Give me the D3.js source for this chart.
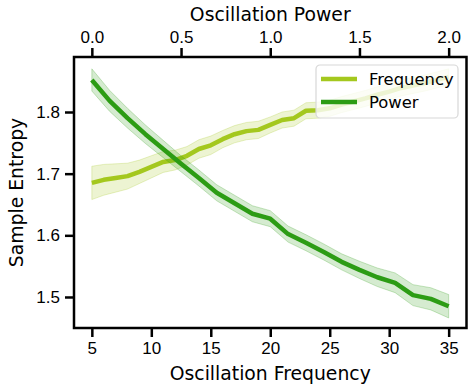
<!DOCTYPE html>
<html>
<head>
<meta charset="utf-8">
<script src="https://cdn.jsdelivr.net/npm/d3@7"></script>
<style>
  body { margin: 0; background: #fff; }
  svg { font-family: "DejaVu Sans", sans-serif; }
</style>
</head>
<body>
<script>
const width = 474
const height = 390

// frequency sweep (bottom axis)
const frequencies = d3.range(5, 36)
const freqEntropy = [1.685, 1.690, 1.693, 1.696, 1.703, 1.711, 1.719, 1.722, 1.729, 1.740,
  1.746, 1.756, 1.764, 1.769, 1.771, 1.779, 1.787, 1.790, 1.802, 1.803,
  1.806, 1.812, 1.817, 1.822, 1.828, 1.833, 1.839, 1.843, 1.847, 1.852, 1.857]
const freqErr = [0.027, 0.025, 0.023, 0.021, 0.019, 0.018, 0.017, 0.016, 0.015, 0.015,
  0.015, 0.014, 0.014, 0.014, 0.014, 0.013, 0.013, 0.013, 0.013, 0.013,
  0.013, 0.013, 0.013, 0.013, 0.013, 0.013, 0.013, 0.013, 0.013, 0.013, 0.013]

// power sweep (top axis)
const powers = d3.range(0, 21).map(i => i / 10)
const powerEntropy = [1.852, 1.818, 1.790, 1.764, 1.740, 1.716, 1.693, 1.669, 1.652, 1.635,
  1.627, 1.602, 1.588, 1.573, 1.557, 1.544, 1.532, 1.523, 1.503, 1.497, 1.485]
const powerErr = [0.018, 0.017, 0.016, 0.015, 0.014, 0.013, 0.013, 0.013, 0.013, 0.013,
  0.013, 0.013, 0.013, 0.013, 0.013, 0.014, 0.015, 0.016, 0.017, 0.018, 0.019]

const freqTicks = [5, 10, 15, 20, 25, 30, 35]
const powerTicks = [0, 0.5, 1, 1.5, 2]
const entropyTicks = [1.5, 1.6, 1.7, 1.8]

const freqColor = '#a4c81e'
const powerColor = '#2c9c14'

const plotLeft = 74
const plotRight = 466.5
const plotTop = 57
const plotBottom = 328

const x = d3.scaleLinear().domain([3.5, 36.5]).range([plotLeft, plotRight])
const xp = d3.scaleLinear().domain([-0.1, 2.1]).range([plotLeft, plotRight])
const y = d3.scaleLinear().domain([1.4497, 1.8892]).range([plotBottom, plotTop])

const svg = d3.select('body').append('svg')
  .attr('width', width)
  .attr('height', height)

function series (xs, sx, vals, errs, color) {
  const pts = xs.map((v, i) => ({ x: v, y: vals[i], e: errs[i] }))
  svg.append('path')
    .datum(pts)
    .attr('fill', color)
    .attr('fill-opacity', 0.2)
    .attr('stroke', color)
    .attr('stroke-opacity', 0.25)
    .attr('stroke-width', 1)
    .attr('d', d3.area()
      .x(d => sx(d.x))
      .y0(d => y(d.y - d.e))
      .y1(d => y(d.y + d.e)))
  svg.append('path')
    .datum(pts)
    .attr('fill', 'none')
    .attr('stroke', color)
    .attr('stroke-width', 4.5)
    .attr('stroke-linejoin', 'round')
    .attr('d', d3.line().x(d => sx(d.x)).y(d => y(d.y)))
}

series(frequencies, x, freqEntropy, freqErr, freqColor)
series(powers, xp, powerEntropy, powerErr, powerColor)

function styleAxis (g) {
  g.select('.domain').remove()
  g.selectAll('.tick line').attr('stroke', '#000').attr('stroke-width', 2.5)
  g.selectAll('.tick text').attr('fill', '#000').style('font-size', '17px')
}

svg.append('g')
  .attr('transform', `translate(0,${plotBottom})`)
  .call(d3.axisBottom(x).tickValues(freqTicks).tickSize(9).tickPadding(5))
  .call(styleAxis)

svg.append('g')
  .attr('transform', `translate(0,${plotTop})`)
  .call(d3.axisTop(xp).tickValues(powerTicks).tickFormat(d3.format('.1f')).tickSize(9).tickPadding(5))
  .call(styleAxis)

svg.append('g')
  .attr('transform', `translate(${plotLeft},0)`)
  .call(d3.axisLeft(y).tickValues(entropyTicks).tickFormat(d3.format('.1f')).tickSize(9).tickPadding(5))
  .call(styleAxis)

svg.append('rect')
  .attr('x', plotLeft)
  .attr('y', plotTop)
  .attr('width', plotRight - plotLeft)
  .attr('height', plotBottom - plotTop)
  .attr('fill', 'none')
  .attr('stroke', '#000')
  .attr('stroke-width', 2.5)

svg.append('text')
  .attr('x', (plotLeft + plotRight) / 2)
  .attr('y', 380)
  .attr('text-anchor', 'middle')
  .style('font-size', '18.8px')
  .text('Oscillation Frequency')

svg.append('text')
  .attr('x', (plotLeft + plotRight) / 2)
  .attr('y', 21)
  .attr('text-anchor', 'middle')
  .style('font-size', '18.8px')
  .text('Oscillation Power')

svg.append('text')
  .attr('transform', `translate(23,${(plotTop + plotBottom) / 2}) rotate(-90)`)
  .attr('text-anchor', 'middle')
  .style('font-size', '18.8px')
  .text('Sample Entropy')

// legend
const legend = svg.append('g').attr('transform', 'translate(316,65)')
legend.append('rect')
  .attr('width', 142)
  .attr('height', 53)
  .attr('rx', 4)
  .attr('fill', '#fff')
  .attr('fill-opacity', 0.8)
  .attr('stroke', '#d8d8d8')
  .attr('stroke-width', 1.2)

const legendItems = [
  { label: 'Frequency', color: freqColor },
  { label: 'Power', color: powerColor }
]
legendItems.forEach((item, i) => {
  const yy = 14 + i * 23
  legend.append('line')
    .attr('x1', 5).attr('x2', 41)
    .attr('y1', yy).attr('y2', yy)
    .attr('stroke', item.color)
    .attr('stroke-width', 4.5)
  legend.append('text')
    .attr('x', 53)
    .attr('y', yy + 6)
    .style('font-size', '16.4px')
    .text(item.label)
})
</script>
</body>
</html>
